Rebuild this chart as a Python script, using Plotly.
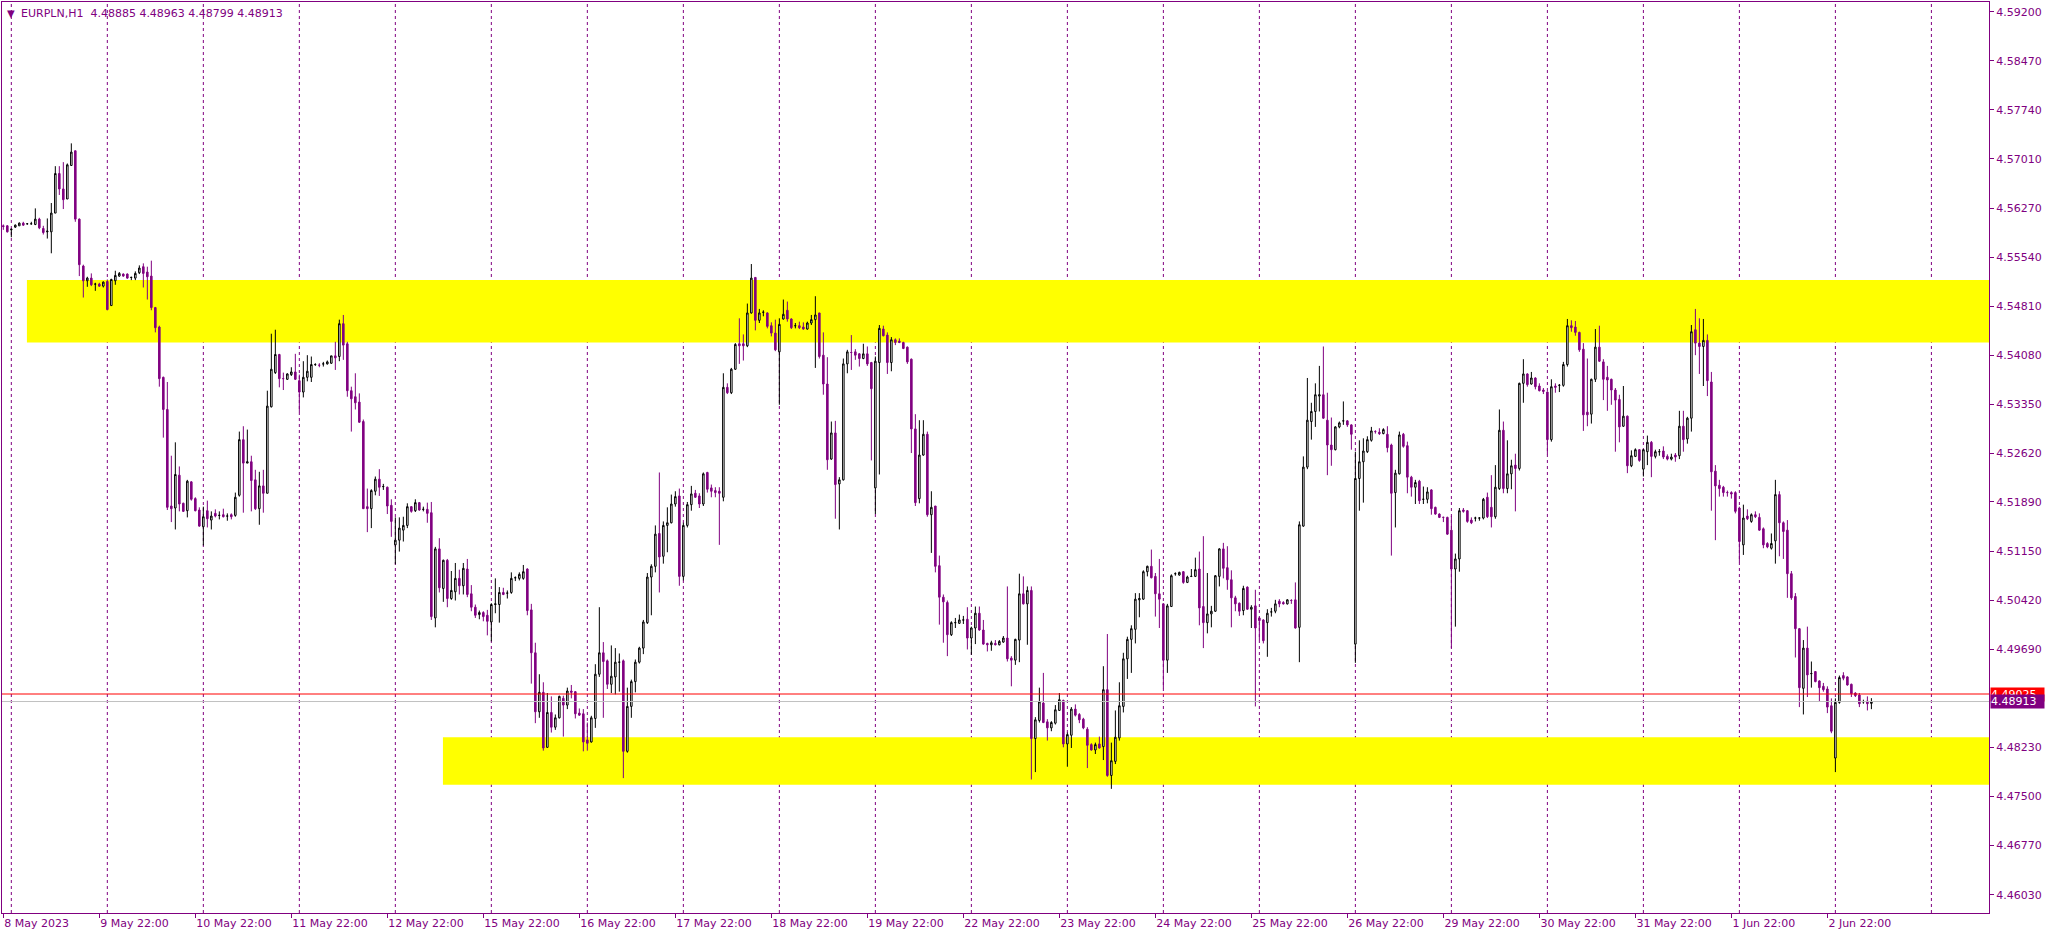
import plotly.graph_objects as go

# ---------------- data (EURPLN, H1) ----------------
opens = [
4.5601,4.5601,4.5595,4.5599,4.5601,4.5605,4.5604,4.5604,4.5603,4.5611,
4.5597,4.5592,4.5592,4.5620,4.5679,4.5656,4.5641,4.5691,4.5713,4.5611,
4.5541,4.5519,4.5523,4.5514,4.5514,4.5511,4.5518,4.5482,4.5519,4.5526,
4.5529,4.5529,4.5524,4.5523,4.5531,4.5540,4.5532,4.5526,4.5479,4.5450,
4.5375,4.5327,4.5183,4.5180,4.5229,4.5187,4.5176,4.5219,4.5194,4.5177,
4.5152,4.5176,4.5162,4.5172,4.5169,4.5170,4.5168,4.5170,4.5169,4.5199,
4.5282,4.5247,4.5249,4.5222,4.5179,4.5213,4.5202,4.5331,4.5382,4.5409,
4.5373,4.5372,4.5379,4.5383,4.5370,4.5353,4.5375,4.5375,4.5394,4.5393,
4.5395,4.5395,4.5396,4.5407,4.5406,4.5455,4.5425,4.5355,4.5346,4.5338,
4.5309,4.5182,4.5179,4.5205,4.5223,4.5212,4.5211,4.5184,4.5125,4.5132,
4.5147,4.5154,4.5182,4.5176,4.5188,4.5178,4.5178,4.5173,4.5016,4.5119,
4.5060,4.5102,4.5045,4.5055,4.5075,4.5064,4.5089,4.5052,4.5032,4.5021,
4.5024,4.5020,4.5010,4.5036,4.5036,4.5054,4.5053,4.5054,4.5076,4.5075,
4.5075,4.5089,4.5028,4.4964,4.4876,4.4905,4.4823,4.4875,4.4853,4.4867,
4.4896,4.4886,4.4907,4.4906,4.4874,4.4873,4.4834,4.4831,4.4866,4.4932,
4.4964,4.4952,4.4917,4.4928,4.4950,4.4952,4.4817,4.4884,4.4921,4.4950,
4.4971,4.5009,4.5077,4.5093,4.5142,4.5108,4.5154,4.5158,4.5186,4.5198,
4.5078,4.5154,4.5185,4.5202,4.5198,4.5186,4.5233,4.5210,4.5206,4.5205,
4.5196,4.5360,4.5352,4.5387,4.5425,4.5425,4.5422,4.5471,4.5524,4.5460,
4.5472,4.5471,4.5452,4.5441,4.5413,4.5462,4.5475,4.5462,4.5452,4.5452,
4.5450,4.5447,4.5456,4.5461,4.5471,4.5408,4.5365,4.5253,4.5292,4.5216,
4.5222,4.5395,4.5412,4.5413,4.5410,4.5403,4.5410,4.5397,4.5210,4.5397,
4.5447,4.5438,4.5397,4.5431,4.5429,4.5427,4.5420,4.5402,4.5298,4.5194,
4.5259,4.5290,4.5170,4.5183,4.5094,4.5047,4.5039,4.4991,4.5009,4.5008,
4.5013,4.5014,4.4986,4.5001,4.5023,4.4998,4.4978,4.4976,4.4978,4.4976,
4.4980,4.4986,4.4956,4.4953,4.4983,4.5052,4.5037,4.5057,4.4836,4.4863,
4.4889,4.4861,4.4852,4.4859,4.4878,4.4893,4.4828,4.4841,4.4880,4.4872,
4.4865,4.4850,4.4827,4.4819,4.4828,4.4824,4.4909,4.4781,4.4802,4.4837,
4.4884,4.4955,4.4984,4.4999,4.5043,4.5044,4.5085,4.5093,4.5078,4.5052,
4.5037,4.4953,4.5033,4.5082,4.5080,4.5085,4.5069,4.5078,4.5078,4.5089,
4.5033,4.5009,4.5022,4.5026,4.5078,4.5119,4.5091,4.5073,4.5046,4.5038,
4.5027,4.5062,4.5029,4.5034,4.5016,4.5013,4.5009,4.5025,4.5026,4.5041,
4.5039,4.5037,4.5042,4.5043,4.5002,4.5153,4.5241,4.5309,4.5324,4.5347,
4.5349,4.5311,4.5274,4.5267,4.5301,4.5310,4.5310,4.5304,4.4977,4.5224,
4.5249,4.5264,4.5281,4.5294,4.5293,4.5291,4.5290,4.5274,4.5203,4.5231,
4.5290,4.5273,4.5226,4.5211,4.5220,4.5193,4.5193,4.5207,4.5181,4.5171,
4.5166,4.5166,4.5147,4.5089,4.5104,4.5177,4.5176,4.5162,4.5165,4.5165,
4.5165,4.5196,4.5181,4.5167,4.5209,4.5296,4.5209,4.5231,4.5244,4.5239,
4.5366,4.5380,4.5365,4.5374,4.5362,4.5356,4.5353,4.5282,4.5362,4.5363,
4.5363,4.5394,4.5452,4.5450,4.5442,4.5417,4.5323,4.5320,4.5372,4.5420,
4.5398,4.5375,4.5372,4.5356,4.5342,4.5302,4.5317,4.5243,4.5257,4.5267,
4.5238,4.5264,4.5278,4.5257,4.5264,4.5265,4.5257,4.5253,4.5259,4.5258,
4.5302,4.5283,4.5314,4.5446,4.5426,4.5421,4.5430,4.5368,4.5235,4.5214,
4.5211,4.5203,4.5203,4.5203,4.5180,4.5125,4.5168,4.5160,4.5170,4.5166,
4.5149,4.5127,4.5120,4.5131,4.5200,4.5158,4.5147,4.5082,4.5048,4.5000,
4.4911,4.4971,4.4933,4.4936,4.4922,4.4914,4.4910,4.4885,4.4807,4.4890,
4.4930,4.4928,4.4917,4.4904,4.4901,4.4891,4.4892,4.48885]

highs = [
4.5603,4.5602,4.5596,4.5603,4.5606,4.5607,4.5605,4.5607,4.5627,4.5613,
4.5601,4.5612,4.5635,4.5690,4.5690,4.5696,4.5694,4.5724,4.5713,4.5612,
4.5543,4.5525,4.5530,4.5516,4.5516,4.5518,4.5521,4.5522,4.5534,4.5532,
4.5530,4.5530,4.5525,4.5533,4.5542,4.5545,4.5540,4.5549,4.5480,4.5452,
4.5376,4.5368,4.5258,4.5278,4.5242,4.5188,4.5222,4.5220,4.5196,4.5181,
4.5182,4.5191,4.5175,4.5178,4.5175,4.5179,4.5172,4.5172,4.5203,4.5294,
4.5302,4.5297,4.5258,4.5237,4.5234,4.5237,4.5355,4.5440,4.5446,4.5410,
4.5382,4.5381,4.5390,4.5410,4.5379,4.5399,4.5408,4.5406,4.5396,4.5396,
4.5398,4.5400,4.5407,4.5428,4.5461,4.5468,4.5428,4.5361,4.5381,4.5351,
4.5312,4.5209,4.5208,4.5227,4.5238,4.5216,4.5212,4.5193,4.5166,4.5166,
4.5167,4.5187,4.5183,4.5193,4.5189,4.5182,4.5188,4.5189,4.5122,4.5135,
4.5103,4.5104,4.5086,4.5098,4.5088,4.5098,4.5104,4.5065,4.5036,4.5027,
4.5026,4.5028,4.5038,4.5075,4.5062,4.5061,4.5057,4.5084,4.5078,4.5084,
4.5095,4.5090,4.5037,4.4979,4.4932,4.4920,4.4904,4.4899,4.4872,4.4900,
4.4900,4.4912,4.4916,4.4907,4.4881,4.4880,4.4860,4.4870,4.4947,4.5032,
4.4980,4.4954,4.4975,4.4971,4.4963,4.4954,4.4912,4.4924,4.4954,4.4973,
4.5013,4.5083,4.5096,4.5154,4.5233,4.5160,4.5181,4.5200,4.5205,4.5209,
4.5158,4.5189,4.5213,4.5207,4.5202,4.5233,4.5234,4.5215,4.5211,4.5211,
4.5381,4.5366,4.5389,4.5426,4.5463,4.5439,4.5485,4.5544,4.5524,4.5477,
4.5475,4.5472,4.5457,4.5461,4.5463,4.5491,4.5488,4.5463,4.5456,4.5458,
4.5457,4.5458,4.5468,4.5496,4.5471,4.5442,4.5405,4.5309,4.5310,4.5226,
4.5403,4.5416,4.5438,4.5417,4.5411,4.5425,4.5421,4.5398,4.5406,4.5453,
4.5452,4.5442,4.5435,4.5433,4.5433,4.5428,4.5421,4.5403,4.5320,4.5311,
4.5311,4.5294,4.5205,4.5183,4.5109,4.5051,4.5042,4.5011,4.5016,4.5021,
4.5019,4.5032,4.5003,4.5033,4.5033,4.5013,4.4979,4.4982,4.4983,4.4983,
4.4989,4.5063,4.4959,4.4985,4.5082,4.5078,4.5063,4.5063,4.4868,4.4912,
4.4934,4.4865,4.4862,4.4886,4.4904,4.4894,4.4845,4.4883,4.4887,4.4874,
4.4867,4.4853,4.4829,4.4830,4.4839,4.4944,4.4992,4.4830,4.4878,4.4920,
4.4964,4.4988,4.5005,4.5053,4.5053,4.5087,4.5094,4.5118,4.5083,4.5104,
4.5038,4.5037,4.5081,4.5084,4.5085,4.5086,4.5079,4.5089,4.5106,4.5115,
4.5138,4.5083,4.5034,4.5080,4.5120,4.5128,4.5123,4.5087,4.5049,4.5039,
4.5064,4.5063,4.5035,4.5058,4.5018,4.5014,4.5029,4.5031,4.5043,4.5044,
4.5041,4.5044,4.5044,4.5069,4.5160,4.5257,4.5374,4.5337,4.5366,4.5392,
4.5421,4.5352,4.5315,4.5302,4.5309,4.5339,4.5311,4.5305,4.5264,4.5281,
4.5284,4.5287,4.5301,4.5296,4.5299,4.5299,4.5302,4.5276,4.5237,4.5294,
4.5292,4.5279,4.5228,4.5222,4.5222,4.5212,4.5211,4.5208,4.5182,4.5172,
4.5167,4.5167,4.5168,4.5112,4.5180,4.5180,4.5177,4.5166,4.5167,4.5166,
4.5195,4.5203,4.5229,4.5244,4.5327,4.5309,4.5281,4.5252,4.5261,4.5367,
4.5402,4.5381,4.5383,4.5375,4.5366,4.5359,4.5354,4.5372,4.5366,4.5365,
4.5398,4.5462,4.5460,4.5459,4.5443,4.5426,4.5403,4.5373,4.5447,4.5452,
4.5402,4.5392,4.5373,4.5359,4.5349,4.5362,4.5318,4.5266,4.5269,4.5268,
4.5268,4.5288,4.5280,4.5267,4.5268,4.5272,4.5260,4.5261,4.5262,4.5325,
4.5325,4.5316,4.5453,4.5477,4.5463,4.5462,4.5439,4.5383,4.5244,4.5222,
4.5213,4.5206,4.5205,4.5205,4.5182,4.5185,4.5178,4.5172,4.5175,4.5172,
4.5151,4.5129,4.5142,4.5222,4.5205,4.5160,4.5162,4.5086,4.5053,4.5001,
4.4983,4.5003,4.4951,4.4936,4.4923,4.4919,4.4914,4.4896,4.4896,4.4930,
4.4935,4.4929,4.4918,4.4905,4.4904,4.4894,4.4899,4.48963]

lows = [
4.5595,4.5591,4.5584,4.5598,4.5601,4.5601,4.5603,4.5603,4.5602,4.5596,
4.5588,4.5582,4.5560,4.5620,4.5647,4.5626,4.5641,4.5691,4.5607,4.5526,
4.5494,4.5510,4.5511,4.5504,4.5510,4.5509,4.5475,4.5482,4.5513,4.5525,
4.5525,4.5522,4.5520,4.5520,4.5529,4.5509,4.5491,4.5475,4.5442,4.5361,
4.5285,4.5177,4.5159,4.5148,4.5175,4.5174,4.5166,4.5191,4.5175,4.5152,
4.5124,4.5151,4.5148,4.5166,4.5163,4.5166,4.5161,4.5163,4.5167,4.5197,
4.5173,4.5247,4.5175,4.5177,4.5155,4.5173,4.5202,4.5330,4.5380,4.5360,
4.5356,4.5371,4.5377,4.5371,4.5323,4.5345,4.5369,4.5368,4.5392,4.5390,
4.5391,4.5394,4.5395,4.5386,4.5399,4.5401,4.5346,4.5294,4.5327,4.5307,
4.5179,4.5144,4.5150,4.5199,4.5198,4.5207,4.5171,4.5137,4.5096,4.5115,
4.5130,4.5150,4.5173,4.5174,4.5176,4.5175,4.5158,4.5013,4.5002,4.5054,
4.5040,4.5032,4.5043,4.5042,4.5051,4.5051,4.5047,4.5026,4.5016,4.5014,
4.5011,4.4990,4.4981,4.5023,4.5009,4.5050,4.5045,4.5052,4.5071,4.5072,
4.5073,4.5020,4.4918,4.4859,4.4867,4.4818,4.4822,4.4845,4.4849,4.4866,
4.4839,4.4880,4.4896,4.4866,4.4870,4.4817,4.4818,4.4830,4.4852,4.4928,
4.4867,4.4910,4.4904,4.4902,4.4906,4.4777,4.4815,4.4867,4.4905,4.4948,
4.4962,4.5007,4.5020,4.5084,4.5054,4.5097,4.5114,4.5157,4.5182,4.5064,
4.5072,4.5151,4.5176,4.5195,4.5180,4.5183,4.5203,4.5196,4.5196,4.5125,
4.5190,4.5350,4.5350,4.5386,4.5395,4.5400,4.5420,4.5470,4.5445,4.5456,
4.5466,4.5448,4.5436,4.5414,4.5334,4.5461,4.5458,4.5447,4.5448,4.5447,
4.5446,4.5446,4.5453,4.5389,4.5403,4.5349,4.5237,4.5252,4.5164,4.5148,
4.5221,4.5381,4.5386,4.5401,4.5391,4.5402,4.5392,4.5251,4.5171,4.5230,
4.5436,4.5380,4.5384,4.5423,4.5426,4.5417,4.5395,4.5262,4.5183,4.5187,
4.5258,4.5167,4.5113,4.5084,4.5006,4.4979,4.4959,4.4989,4.5001,4.5007,
4.5007,4.4969,4.4961,4.4977,4.4997,4.4976,4.4966,4.4967,4.4975,4.4975,
4.4979,4.4951,4.4914,4.4946,4.4950,4.5036,4.4976,4.4775,4.4786,4.4860,
4.4859,4.4833,4.4847,4.4857,4.4878,4.4823,4.4794,4.4822,4.4869,4.4859,
4.4850,4.4792,4.4818,4.4813,4.4821,4.4804,4.4779,4.4761,4.4798,4.4833,
4.4875,4.4925,4.4934,4.4978,4.5017,4.5043,4.5078,4.5075,4.5018,4.5001,
4.4911,4.4934,4.5033,4.5079,4.5079,4.5067,4.5068,4.5077,4.5077,4.5005,
4.4971,4.4993,4.5002,4.5025,4.5063,4.5075,4.5058,4.5002,4.5026,4.5019,
4.5020,4.5028,4.5001,4.4884,4.4983,4.4978,4.4958,4.5018,4.5023,4.5032,
4.5036,4.5036,4.5037,4.5000,4.4950,4.5152,4.5238,4.5282,4.5301,4.5324,
4.5313,4.5229,4.5243,4.5266,4.5299,4.5304,4.5301,4.5267,4.4949,4.5176,
4.5188,4.5262,4.5279,4.5291,4.5289,4.5290,4.5263,4.5109,4.5151,4.5230,
4.5270,4.5202,4.5197,4.5186,4.5186,4.5186,4.5187,4.5170,4.5170,4.5165,
4.5159,4.5140,4.4971,4.5003,4.5085,4.5173,4.5158,4.5156,4.5160,4.5161,
4.5163,4.5165,4.5151,4.5164,4.5207,4.5202,4.5202,4.5208,4.5175,4.5236,
4.5337,4.5361,4.5364,4.5357,4.5354,4.5350,4.5260,4.5279,4.5352,4.5353,
4.5361,4.5391,4.5443,4.5437,4.5413,4.5295,4.5302,4.5306,4.5368,4.5398,
4.5341,4.5325,4.5334,4.5264,4.5278,4.5301,4.5232,4.5241,4.5256,4.5249,
4.5227,4.5244,4.5226,4.5254,4.5258,4.5253,4.5251,4.5251,4.5249,4.5253,
4.5264,4.5276,4.5294,4.5408,4.5380,4.5362,4.5347,4.5176,4.5132,4.5197,
4.5197,4.5197,4.5194,4.5172,4.5099,4.5110,4.5162,4.5158,4.5165,4.5146,
4.5120,4.5120,4.5118,4.5097,4.5108,4.5104,4.5046,4.5043,4.4957,4.4883,
4.4872,4.4898,4.4912,4.4920,4.4891,4.4906,4.4874,4.4844,4.4786,4.4888,
4.4923,4.4915,4.4898,4.4898,4.4883,4.4888,4.4878,4.48799]

closes = [
4.5600,4.5592,4.5596,4.5602,4.5605,4.5602,4.5604,4.5604,4.5611,4.5598,
4.5591,4.5593,4.5620,4.5679,4.5656,4.5640,4.5692,4.5711,4.5611,4.5543,
4.5519,4.5523,4.5513,4.5514,4.5511,4.5517,4.5476,4.5521,4.5527,4.5530,
4.5526,4.5523,4.5524,4.5530,4.5538,4.5530,4.5525,4.5479,4.5449,4.5373,
4.5327,4.5181,4.5179,4.5230,4.5186,4.5175,4.5220,4.5193,4.5176,4.5153,
4.5167,4.5164,4.5168,4.5168,4.5169,4.5167,4.5168,4.5167,4.5196,4.5282,
4.5247,4.5249,4.5221,4.5179,4.5213,4.5202,4.5332,4.5387,4.5409,4.5373,
4.5373,4.5380,4.5383,4.5372,4.5353,4.5375,4.5384,4.5394,4.5394,4.5393,
4.5395,4.5398,4.5407,4.5404,4.5455,4.5423,4.5355,4.5343,4.5337,4.5308,
4.5179,4.5179,4.5206,4.5223,4.5211,4.5212,4.5183,4.5160,4.5132,4.5150,
4.5154,4.5182,4.5175,4.5188,4.5177,4.5178,4.5172,4.5018,4.5119,4.5061,
4.5102,4.5045,4.5057,4.5075,4.5064,4.5090,4.5051,4.5032,4.5020,4.5024,
4.5018,4.5011,4.5036,4.5037,4.5054,4.5051,4.5053,4.5075,4.5076,4.5081,
4.5085,4.5027,4.4964,4.4876,4.4905,4.4822,4.4875,4.4853,4.4867,4.4899,
4.4886,4.4907,4.4905,4.4873,4.4871,4.4831,4.4829,4.4867,4.4932,4.4964,
4.4951,4.4917,4.4929,4.4950,4.4950,4.4817,4.4884,4.4921,4.4950,4.4971,
4.5010,4.5077,4.5093,4.5141,4.5107,4.5154,4.5158,4.5186,4.5197,4.5078,
4.5154,4.5185,4.5201,4.5196,4.5186,4.5231,4.5208,4.5205,4.5203,4.5202,
4.5360,4.5352,4.5387,4.5424,4.5422,4.5422,4.5471,4.5523,4.5460,4.5471,
4.5472,4.5451,4.5441,4.5416,4.5454,4.5469,4.5462,4.5449,4.5452,4.5449,
4.5447,4.5456,4.5461,4.5468,4.5406,4.5365,4.5252,4.5292,4.5215,4.5222,
4.5395,4.5413,4.5412,4.5408,4.5403,4.5410,4.5395,4.5358,4.5399,4.5448,
4.5437,4.5397,4.5431,4.5427,4.5427,4.5418,4.5398,4.5298,4.5188,4.5259,
4.5290,4.5170,4.5181,4.5093,4.5047,4.5040,4.4991,4.5009,4.5009,4.5013,
4.5013,4.4986,4.5001,4.5023,4.4998,4.4977,4.4976,4.4979,4.4976,4.4981,
4.4986,4.4955,4.4953,4.4984,4.5052,4.5037,4.5057,4.4836,4.4864,4.4891,
4.4860,4.4852,4.4860,4.4879,4.4894,4.4828,4.4842,4.4880,4.4871,4.4864,
4.4852,4.4826,4.4819,4.4827,4.4822,4.4909,4.4781,4.4803,4.4838,4.4885,
4.4955,4.4984,4.5000,4.5044,4.5045,4.5085,4.5093,4.5076,4.5052,4.5044,
4.4953,4.5034,4.5079,4.5082,4.5084,4.5069,4.5077,4.5078,4.5088,4.5031,
4.5009,4.5022,4.5026,4.5079,4.5119,4.5090,4.5073,4.5046,4.5037,4.5026,
4.5060,4.5029,4.5032,4.5001,4.5012,4.4982,4.5023,4.5025,4.5037,4.5037,
4.5037,4.5043,4.5042,4.5001,4.5155,4.5241,4.5311,4.5324,4.5349,4.5349,
4.5314,4.5274,4.5267,4.5301,4.5307,4.5310,4.5304,4.5290,4.5224,4.5249,
4.5265,4.5282,4.5295,4.5294,4.5291,4.5297,4.5270,4.5202,4.5232,4.5289,
4.5272,4.5226,4.5211,4.5218,4.5191,4.5193,4.5204,4.5179,4.5171,4.5166,
4.5166,4.5141,4.5089,4.5104,4.5176,4.5175,4.5160,4.5158,4.5165,4.5165,
4.5193,4.5167,4.5167,4.5211,4.5296,4.5209,4.5231,4.5243,4.5239,4.5366,
4.5380,4.5364,4.5374,4.5361,4.5355,4.5354,4.5282,4.5361,4.5360,4.5363,
4.5394,4.5452,4.5449,4.5442,4.5416,4.5319,4.5319,4.5372,4.5420,4.5399,
4.5372,4.5371,4.5356,4.5341,4.5301,4.5317,4.5243,4.5258,4.5267,4.5251,
4.5267,4.5278,4.5257,4.5264,4.5264,4.5256,4.5253,4.5256,4.5256,4.5302,
4.5282,4.5314,4.5443,4.5426,4.5421,4.5430,4.5370,4.5234,4.5213,4.5209,
4.5203,4.5203,4.5201,4.5175,4.5130,4.5165,4.5164,4.5170,4.5167,4.5147,
4.5125,4.5122,4.5127,4.5200,4.5158,4.5145,4.5082,4.5046,4.5000,4.4912,
4.4971,4.4931,4.4933,4.4921,4.4912,4.4909,4.4883,4.4847,4.4890,4.4927,
4.4926,4.4916,4.4903,4.4900,4.4888,4.4891,4.4888,4.48913]

# time axis labels (one every 24 bars)
x_label_idx = [0, 24, 48, 72, 96, 120, 144, 168, 192, 216,
               240, 264, 288, 312, 336, 360, 384, 408, 432, 456]
x_labels = ["8 May 2023", "9 May 22:00", "10 May 22:00", "11 May 22:00",
            "12 May 22:00", "15 May 22:00", "16 May 22:00", "17 May 22:00",
            "18 May 22:00", "19 May 22:00", "22 May 22:00", "23 May 22:00",
            "24 May 22:00", "25 May 22:00", "26 May 22:00", "29 May 22:00",
            "30 May 22:00", "31 May 22:00", "1 Jun 22:00", "2 Jun 22:00"]
# day separators (bar index of 00:00)
day_sep_idx = [2, 26, 50, 74, 98, 122, 146, 170, 194, 218, 242, 266, 290,
               314, 338, 362, 386, 410, 434, 458, 482]

y_ticks = [4.46030, 4.46770, 4.47500, 4.48230, 4.49690, 4.50420, 4.51150,
           4.51890, 4.52620, 4.53350, 4.54080, 4.54810, 4.55540, 4.56270,
           4.57010, 4.57740, 4.58470, 4.59200]

# supply / demand zones (start bar, top, bottom)
zone_start = [5.9, 109.9]
zone_top = [4.5520, 4.4838]
zone_bottom = [4.5427, 4.4767]

bid_price = 4.48913
ask_price = 4.49025
symbol = "EURPLN,H1"
last_ohlc = ["4.48885", "4.48963", "4.48799", "4.48913"]

# ---------------- styling ----------------
PURPLE = "#800080"
FONT = "DejaVu Sans"
X_MIN, X_MAX = -0.33, 496.4
Y_MIN, Y_MAX = 4.45758, 4.59349

fig = go.Figure()
fig.add_trace(go.Candlestick(
    x=list(range(len(opens))), open=opens, high=highs, low=lows, close=closes,
    increasing=dict(line=dict(color="#000000", width=1), fillcolor="#FFFFFF"),
    decreasing=dict(line=dict(color=PURPLE, width=1), fillcolor=PURPLE),
    whiskerwidth=0, hoverinfo="skip", showlegend=False,
))

shapes = []
for xs, yt, yb in zip(zone_start, zone_top, zone_bottom):
    shapes.append(dict(type="rect", xref="x", yref="y", x0=xs, x1=X_MAX,
                       y0=yb, y1=yt, fillcolor="#FFFF00",
                       line=dict(width=0), layer="below"))
for d in day_sep_idx:
    shapes.append(dict(type="line", xref="x", yref="paper", x0=d, x1=d,
                       y0=0, y1=1, line=dict(color=PURPLE, width=1, dash="3px,3px"),
                       layer="below"))
shapes.append(dict(type="line", xref="paper", yref="y", x0=0, x1=1,
                   y0=bid_price, y1=bid_price,
                   line=dict(color="#C0C0C0", width=1)))
shapes.append(dict(type="line", xref="paper", yref="y", x0=0, x1=1,
                   y0=ask_price, y1=ask_price,
                   line=dict(color="#FF0000", width=1)))

annotations = [
    dict(xref="paper", yref="paper", x=0, y=1, xanchor="left", yanchor="top",
         xshift=3, yshift=-4, text="\u25BC", showarrow=False,
         font=dict(family=FONT, size=10, color=PURPLE)),
    dict(xref="paper", yref="paper", x=0, y=1, xanchor="left", yanchor="top",
         xshift=17, yshift=-3, showarrow=False,
         text=symbol + "\u00a0\u00a0" + " ".join(last_ohlc),
         font=dict(family=FONT, size=11, color=PURPLE)),
    dict(xref="paper", yref="y", x=1, y=ask_price, xanchor="left", yanchor="middle",
         xshift=1, text="%.5f" % ask_price, showarrow=False, bgcolor="#FF0000",
         borderpad=0, width=53, align="left",
         font=dict(family=FONT, size=11, color="#FFFFFF")),
    dict(xref="paper", yref="y", x=1, y=bid_price, xanchor="left", yanchor="middle",
         xshift=1, text="%.5f" % bid_price, showarrow=False, bgcolor=PURPLE,
         borderpad=0, width=53, align="left",
         font=dict(family=FONT, size=11, color="#FFFFFF")),
]

fig.update_layout(
    width=2053, height=937,
    margin=dict(l=2, r=64, t=2, b=24, pad=0),
    paper_bgcolor="#FFFFFF", plot_bgcolor="#FFFFFF",
    showlegend=False, boxgap=0.45,
    shapes=shapes, annotations=annotations,
    xaxis=dict(range=[X_MIN, X_MAX], showgrid=False, zeroline=False,
               showline=True, linecolor=PURPLE, linewidth=1, mirror=True,
               ticks="outside", ticklen=4, tickcolor=PURPLE, tickwidth=1,
               tickvals=x_label_idx, ticktext=x_labels,
               ticklabelposition="outside right",
               tickfont=dict(family=FONT, size=11, color=PURPLE),
               rangeslider=dict(visible=False), fixedrange=True),
    yaxis=dict(range=[Y_MIN, Y_MAX], side="right", showgrid=False, zeroline=False,
               showline=True, linecolor=PURPLE, linewidth=1, mirror=True,
               ticks="outside", ticklen=4, tickcolor=PURPLE, tickwidth=1,
               tickvals=y_ticks, ticktext=["%.5f" % v for v in y_ticks],
               tickfont=dict(family=FONT, size=11, color=PURPLE), fixedrange=True),
)

fig.write_html("out.html", config={"displayModeBar": False},
               post_script="document.body.style.margin='0';")
